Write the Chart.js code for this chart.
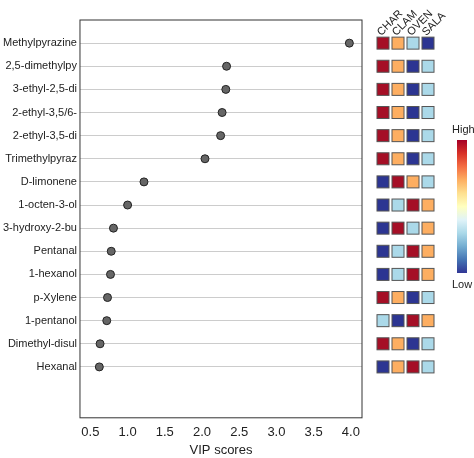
<!DOCTYPE html>
<html><head><script src="https://cdn.jsdelivr.net/npm/chart.js@4"></script>
<style>body{margin:0;background:#fff}#w{width:474px;height:458px}</style></head>
<body><div id="w"><canvas id="c"></canvas></div>
<script>
const compounds=["Methylpyrazine","2,5-dimethylpy","3-ethyl-2,5-di","2-ethyl-3,5/6-","2-ethyl-3,5-di","Trimethylpyraz","D-limonene","1-octen-3-ol","3-hydroxy-2-bu","Pentanal","1-hexanol","p-Xylene","1-pentanol","Dimethyl-disul","Hexanal"];
const vip=[3.98,2.33,2.32,2.27,2.25,2.04,1.22,1.00,0.81,0.78,0.77,0.73,0.72,0.63,0.62];
const methods=["CHAR","CLAM","OVEN","SALA"];
const ranks=[[4,3,2,1],[4,3,1,2],[4,3,1,2],[4,3,1,2],[4,3,1,2],[4,3,1,2],[1,4,3,2],[1,2,4,3],[1,4,2,3],[1,2,4,3],[1,2,4,3],[4,3,1,2],[2,1,4,3],[4,3,1,2],[1,3,4,2]];
const xTicks=[0.5,1.0,1.5,2.0,2.5,3.0,3.5,4.0];
const rankColors={1:"#2c3592",2:"#abd9e9",3:"#fdae61",4:"#a50f26"};
const extras={id:'extras',afterDraw(ch){
 const c=ch.ctx,a=ch.chartArea,y=ch.scales.y;
 c.save();c.strokeStyle="#333";c.lineWidth=1;c.strokeRect(a.left,a.top,a.right-a.left,a.bottom-a.top);
 const cols=[383,398,413,428],s=12;
 ranks.forEach((r,i)=>{const py=y.getPixelForValue(i);r.forEach((v,j)=>{c.fillStyle=rankColors[v];c.fillRect(cols[j]-s/2,py-s/2,s,s);c.strokeStyle="#555";c.strokeRect(cols[j]-s/2,py-s/2,s,s);});});
 c.fillStyle="#222";c.font="11px 'Liberation Sans', Arial";
 methods.forEach((m,j)=>{c.save();c.translate(cols[j]-4,34);c.rotate(-Math.PI/4);c.textAlign="left";c.textBaseline="middle";c.fillText(m,0,0);c.restore();});
 const g=c.createLinearGradient(0,140,0,273);
 ["#a50026","#d73027","#f46d43","#fdae61","#fee090","#ffffbf","#e0f3f8","#abd9e9","#74add1","#4575b4","#313695"].forEach((col,k,arr)=>g.addColorStop(k/(arr.length-1),col));
 c.fillStyle=g;c.fillRect(457,140,10,133);
 c.fillStyle="#222";c.textAlign="left";c.textBaseline="middle";c.fillText("High",452,130);c.fillText("Low",452,285);
 c.restore();}};
new Chart(document.getElementById('c'),{type:'scatter',
 data:{datasets:[{data:vip.map((v,i)=>({x:v,y:i})),backgroundColor:"#666",borderColor:"#222",borderWidth:1,pointRadius:4}]},
 options:{responsive:true,maintainAspectRatio:false,animation:false,
 layout:{padding:{right:112,top:20,left:0,bottom:0}},
 plugins:{legend:{display:false},tooltip:{enabled:false}},
 scales:{
  x:{min:0.36,max:4.15,afterBuildTicks:s=>{s.ticks=xTicks.map(v=>({value:v}))},
     ticks:{callback:v=>v.toFixed(1),color:"#222",padding:2,font:{size:13,family:"'Liberation Sans', Arial"}},
     grid:{display:false,drawTicks:true,tickLength:5,color:"#333"},border:{display:false},
     title:{display:true,text:"VIP scores",color:"#222",font:{size:13,family:"'Liberation Sans', Arial"},padding:{top:0,bottom:0}}},
  y:{reverse:true,min:-1,max:16.2,afterBuildTicks:s=>{s.ticks=compounds.map((_,i)=>({value:i}))},
     ticks:{callback:v=>compounds[v]??'',color:"#222",font:{size:11,family:"'Liberation Sans', Arial"},autoSkip:false},
     grid:{color:"#ccc",drawTicks:false},border:{display:false}}
 }},plugins:[extras]});
</script></body></html>
